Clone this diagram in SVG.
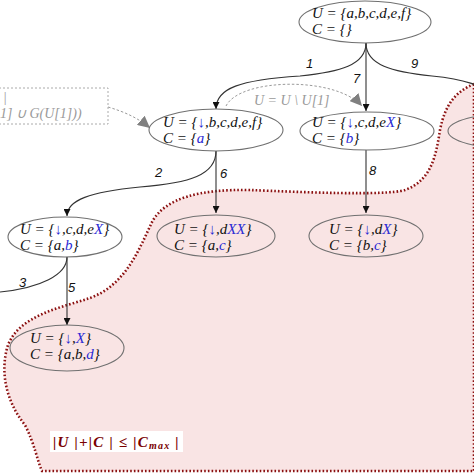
<svg xmlns="http://www.w3.org/2000/svg" width="474" height="474" viewBox="0 0 474 474">
<style>
.n{fill:none;stroke:#707070;stroke-width:1.1}
.t{font-family:"Liberation Serif",serif;font-style:italic;font-size:15px;fill:#111}
.b{fill:#2a2ad4}
.c{fill:none;stroke:#333;stroke-width:1.1}
.l{font-family:"Liberation Sans",Arial,sans-serif;font-style:italic;font-size:13px;fill:#111}
.g{font-family:"Liberation Serif",serif;font-style:italic;font-size:14px;fill:#9a9a9a}
.d{fill:none;stroke:#9a9a9a;stroke-width:1;stroke-dasharray:2.5 2}
</style>
<defs>
<marker id="ah" viewBox="0 0 10 10" refX="10" refY="5" markerWidth="7" markerHeight="7" orient="auto" markerUnits="userSpaceOnUse">
<path d="M0,0 L10,5 L0,10 Z" fill="#111"/>
</marker>
<marker id="gh" viewBox="0 0 10 10" refX="10" refY="5" markerWidth="12" markerHeight="12" orient="auto" markerUnits="userSpaceOnUse">
<path d="M0,0 L10,5 L0,10 Z" fill="#808080"/>
</marker>
</defs>
<rect width="474" height="474" fill="#fff"/>
<g id="region">
<path d="M 474 84 C 455 92, 445 105, 440 130 C 436 155, 432 180, 405 190 C 385 196, 300 192, 250 190 C 200 189, 165 198, 152 222 C 138 252, 125 285, 90 298 C 60 308, 20 315, 8 345 C 0 370, 5 400, 25 425 C 35 445, 37 460, 42 471 L 474 471 Z" fill="#f9e4e4" stroke="#8b1010" stroke-width="2.6" stroke-dasharray="1.6 2.1"/>
</g>
<g id="connectors">
<path class="c" d="M 366 43 C 366 65, 340 72, 300 76 C 240 80, 216 88, 216 109" marker-end="url(#ah)"/>
<path class="c" d="M 366 43 L 366 111" marker-end="url(#ah)"/>
<path class="c" d="M 366 43 C 366 65, 392 72, 432 76 C 462 79, 482 84, 500 100"/>
<path class="c" d="M 216 151 C 216 175, 190 183, 140 187 C 90 192, 67 200, 67 216" marker-end="url(#ah)"/>
<path class="c" d="M 216 151 L 216 213" marker-end="url(#ah)"/>
<path class="c" d="M 366 150 L 366 213" marker-end="url(#ah)"/>
<path class="c" d="M 67 257 C 67 275, 40 288, 0 292"/>
<path class="c" d="M 67 257 L 67 325" marker-end="url(#ah)"/>
<path class="d" d="M 226 106 C 240 78, 335 76, 362 106" marker-end="url(#gh)"/>
<path class="d" d="M 108 107 C 125 112, 138 118, 150 128" marker-end="url(#gh)"/>
<text class="l" x="306" y="68">1</text>
<text class="l" x="353" y="83">7</text>
<text class="l" x="411" y="68">9</text>
<text class="l" x="155" y="177">2</text>
<text class="l" x="220" y="178">6</text>
<text class="l" x="369" y="175">8</text>
<text class="l" x="19" y="287">3</text>
<text class="l" x="68" y="292">5</text>
<text class="g" x="254" y="105">U = U \ U[1]</text>
</g>
<g id="note">
<rect x="-5" y="88" width="113" height="36" fill="none" stroke="#aaa" stroke-width="1" stroke-dasharray="2 2"/>
<text class="g" x="3" y="102">|</text>
<text class="g" x="0" y="118">1] ∪ G(U[1]))</text>
</g>
<g id="root">
<ellipse class="n" cx="365" cy="22" rx="66" ry="21" fill="#fff"/>
<text class="t" x="312" y="18">U = {a,b,c,d,e,f}</text>
<text class="t" x="312" y="34">C = {}</text>
</g>
<g id="nodeA">
<ellipse class="n" cx="216" cy="130" rx="67" ry="21" fill="#fff"/>
<text class="t" x="163" y="127">U = {<tspan class="b">↓</tspan>,b,c,d,e,f}</text>
<text class="t" x="163" y="143">C = {<tspan class="b">a</tspan>}</text>
</g>
<g id="nodeB">
<ellipse class="n" cx="367" cy="131" rx="67" ry="19" fill="#fff"/>
<text class="t" x="312" y="127">U = {<tspan class="b">↓</tspan>,c,d,e<tspan class="b">X</tspan>}</text>
<text class="t" x="312" y="143">C = {<tspan class="b">b</tspan>}</text>
</g>
<g id="nodeR">
<ellipse class="n" cx="515" cy="131" rx="67" ry="18"/>
</g>
<g id="nodeC">
<ellipse class="n" cx="65" cy="237" rx="57" ry="20" fill="#fff"/>
<text class="t" x="20" y="234">U = {<tspan class="b">↓</tspan>,c,d,e<tspan class="b">X</tspan>}</text>
<text class="t" x="20" y="250">C = {a,<tspan class="b">b</tspan>}</text>
</g>
<g id="nodeD">
<ellipse class="n" cx="216" cy="236" rx="59" ry="21"/>
<text class="t" x="174" y="234">U = {<tspan class="b">↓</tspan>,d<tspan class="b">XX</tspan>}</text>
<text class="t" x="174" y="250">C = {a,<tspan class="b">c</tspan>}</text>
</g>
<g id="nodeE">
<ellipse class="n" cx="366" cy="236" rx="57" ry="21"/>
<text class="t" x="329" y="234">U = {<tspan class="b">↓</tspan>,d<tspan class="b">X</tspan>}</text>
<text class="t" x="329" y="250">C = {b,<tspan class="b">c</tspan>}</text>
</g>
<g id="nodeF">
<ellipse class="n" cx="67" cy="348" rx="57" ry="23"/>
<text class="t" x="30" y="343">U = {<tspan class="b">↓</tspan>,<tspan class="b">X</tspan>}</text>
<text class="t" x="30" y="359">C = {a,b,<tspan class="b">d</tspan>}</text>
</g>
<g id="formula">
<rect x="50" y="431" width="133" height="21" fill="#fff"/>
<text x="53" y="447" font-family="Liberation Serif,serif" font-style="italic" font-weight="bold" font-size="15" letter-spacing="1.2" fill="#7a0000">|U |+|C | ≤ |C<tspan font-size="10" dy="2">max</tspan><tspan dy="-2"> |</tspan></text>
</g>
</svg>
